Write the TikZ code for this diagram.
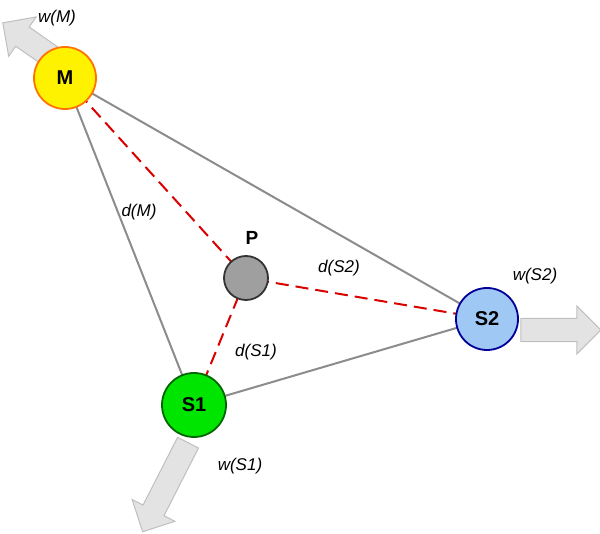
\documentclass[tikz,border=0pt]{standalone}
\usepackage{fontspec}
\setmainfont{Liberation Sans}
\usetikzlibrary{shapes.arrows}
\definecolor{sblue}{RGB}{160,200,245}
\begin{document}
\begin{tikzpicture}[x=1pt,y=-1pt,
  blk/.style={single arrow, draw=gray!50, fill=gray!22, line width=1pt, minimum width=48, single arrow head extend=12, inner xsep=0pt, inner ysep=11pt},
  ball/.style={circle, draw, line width=1.8pt, font=\fontsize{20}{24}\selectfont\bfseries, inner sep=0pt},
  edge/.style={gray!90, line width=2pt},
  dist/.style={red!85!black, dash pattern=on 13pt off 7pt, line width=2pt},
  lab/.style={font=\fontsize{17}{20}\selectfont\itshape}]
\useasboundingbox (0,0) rectangle (600,534);
\node[blk, minimum height=62, rotate=145] (aM) at (33,44) {};
\node[blk, minimum height=80, rotate=0] (aS2) at (555,330) {};
\node[blk, minimum height=100, rotate=243] (aS1) at (168,482) {};
\coordinate (cM) at (65,78);
\coordinate (cP) at (246,278);
\coordinate (cS2) at (487,319);
\coordinate (cS1) at (194,405);
\draw[edge] (cM) -- (cS2) -- (cS1) -- (cM);
\draw[dist] (cM) -- (cP) -- (cS2);
\draw[dist] (cP) -- (cS1);
\node[ball, fill=yellow, draw=orange!90!red, minimum size=62] (M) at (cM) {M};
\node[ball, fill=gray!75, draw=black!80, minimum size=44] (P) at (cP) {};
\node[ball, fill=sblue, draw=blue!60!black, minimum size=62] (S2) at (cS2) {S2};
\node[ball, fill=green!90!black, draw=green!40!black, minimum size=64] (S1) at (cS1) {S1};
\node[font=\fontsize{19}{22}\selectfont\bfseries] (lP) at (252,238) {P};
\node[lab] (wM) at (57,18) {w(M)};
\node[lab] (wS2) at (535,276) {w(S2)};
\node[lab] (wS1) at (240,466) {w(S1)};
\node[lab] (dM) at (139,212) {d(M)};
\node[lab] (dS2) at (339,268) {d(S2)};
\node[lab] (dS1) at (256,352) {d(S1)};
\end{tikzpicture}
\end{document}
